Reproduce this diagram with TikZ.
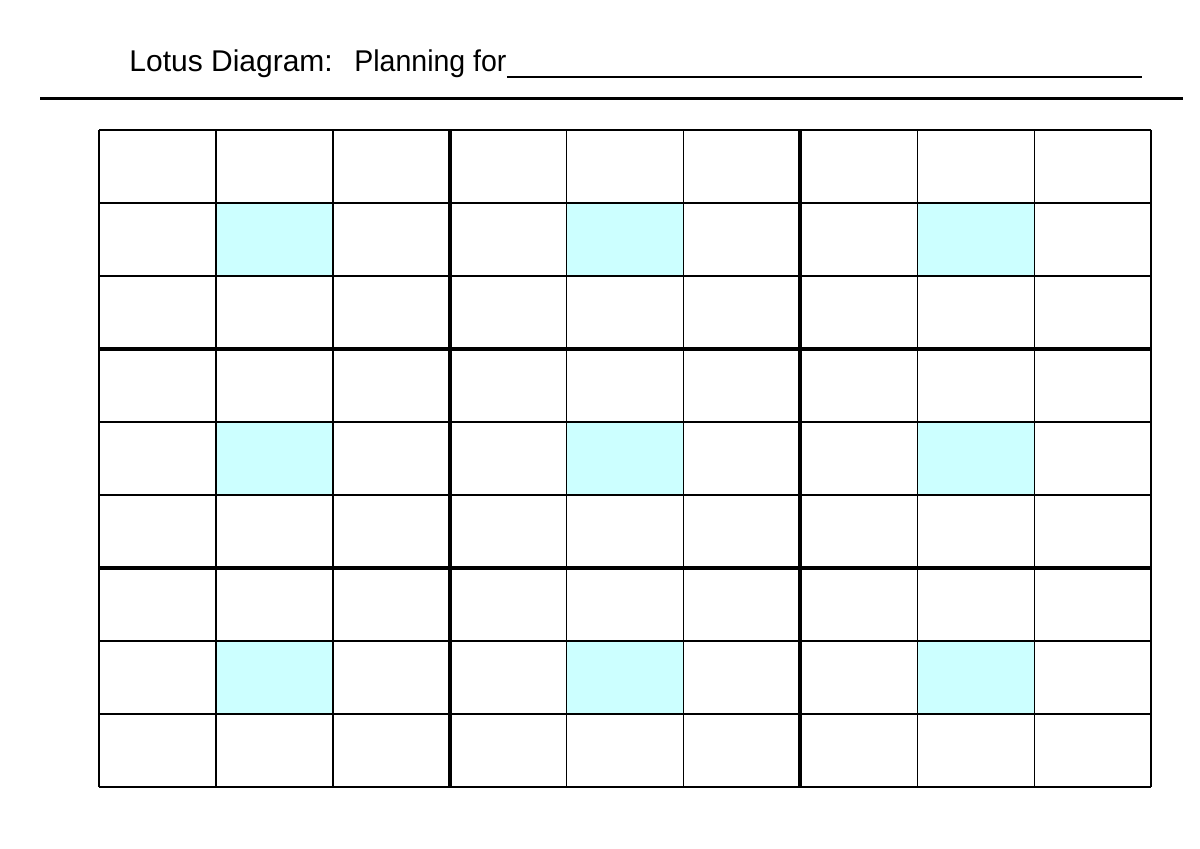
\documentclass[tikz,border=0pt]{standalone}
\usepackage{fontspec}
\setmainfont{Liberation Sans}
\definecolor{lotuscyan}{HTML}{CCFFFF}
\tikzset{
  thin grid/.style={line width=0.7pt},
  thick grid/.style={line width=2pt},
  head/.style={anchor=base west, inner sep=0pt, font=\fontsize{15}{18}\selectfont}
}
\begin{document}
\begin{tikzpicture}[x=0.5pt, y=-0.5pt]
\useasboundingbox (0,0) rectangle (1200,849);
% heading
\node[head] (title) at (129,72) {Lotus Diagram:};
\node[head] (plan) at (354,72) {\scalebox{0.95}[1]{Planning for}};
\coordinate (blank) at (1142,77);
\draw[line width=1pt] (plan.base east) ++(0,5) -- (blank);
\draw[line width=1.5pt] (40,99) -- (1183,99);
% centre cells
\foreach \i in {1,4,7}
  \foreach \j in {1,4,7}
    \fill[lotuscyan] ({99+\i*116.9},{130+\j*73}) rectangle ({99+(\i+1)*116.9},{130+(\j+1)*73});
% grid
\foreach \i in {0,...,9}
  \draw[thin grid] ({99+\i*116.9},130) -- ({99+\i*116.9},787);
\foreach \j in {0,...,9}
  \draw[thin grid] (99,{130+\j*73}) -- (1151,{130+\j*73});
\foreach \i in {3,6}{
  \draw[thick grid] ({99+\i*116.9},130) -- ({99+\i*116.9},787);
  \draw[thick grid] (99,{130+\i*73}) -- (1151,{130+\i*73});
}
\end{tikzpicture}
\end{document}
